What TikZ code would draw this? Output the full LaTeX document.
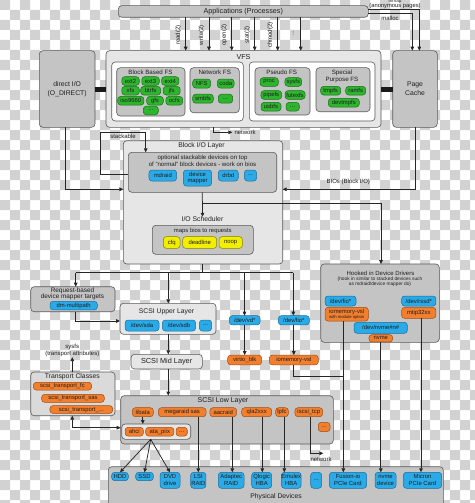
\documentclass[tikz,border=0pt]{standalone}
\usepackage{fontspec}
\setmainfont{Liberation Sans}
\usetikzlibrary{arrows.meta}
\definecolor{chk}{HTML}{D2D2D2}
\definecolor{bxd}{HTML}{C4C4C4}
\definecolor{bxl}{HTML}{E6E6E6}
\definecolor{bxm}{HTML}{DADADA}
\definecolor{bxb}{HTML}{5A5A5A}
\definecolor{gF}{HTML}{2DB52D}\definecolor{gD}{HTML}{1A6E1A}
\definecolor{bF}{HTML}{2AAAE6}\definecolor{bD}{HTML}{1B6C9E}
\definecolor{oF}{HTML}{F27F2E}\definecolor{oD}{HTML}{9E4E16}
\definecolor{yF}{HTML}{F2EE00}\definecolor{yD}{HTML}{858200}
\definecolor{tx}{HTML}{1E1E1E}
\newcommand\fT{\fontsize{6.8}{8}\selectfont}
\newcommand\fC{\fontsize{6.2}{7.3}\selectfont}
\newcommand\fP{\fontsize{5.9}{6.9}\selectfont}
\newcommand\fN{\fontsize{6}{7}\selectfont}
\newcommand\fH{\fontsize{4.8}{5.4}\selectfont}
\newcommand\fM{\fontsize{7.2}{8.2}\selectfont}
\newcommand\bx[6]{\node[#6, minimum width={(#4-#2)*1pt}, minimum height={(#5-#3)*1pt}] (#1) at ({(#2+#4)/2},{(#3+#5)/2}) {};}
\newcommand\pl[7]{\node[#6, minimum width=#4pt, minimum height=#5pt] (#1) at (#2,#3) {#7};}
\tikzset{
 box/.style={draw=bxb, line width=0.6pt, rounded corners=3.5pt, inner sep=0pt, outer sep=0pt},
 dk/.style={box, fill=bxd},
 lt/.style={box, fill=bxl},
 md/.style={box, fill=bxm},
 wt/.style={box, fill=white},
 pill/.style={line width=0.5pt, rounded corners=3pt, inner sep=0pt, outer sep=0pt, font=\fP, text=tx, align=center},
 gp/.style={pill, fill=gF, draw=gD},
 bp/.style={pill, fill=bF, draw=bD},
 op/.style={pill, fill=oF, draw=oD},
 yp/.style={pill, fill=yF, draw=yD},
 lb/.style={inner sep=0pt, outer sep=0pt, text=tx, align=center},
 ttl/.style={lb, font=\fT},
 ar/.style={draw=black!85, line width=0.75pt, -{Triangle[length=4pt,width=3.6pt]}},
 arb/.style={draw=black!85, line width=0.75pt, {Triangle[length=4pt,width=3.6pt]}-{Triangle[length=4pt,width=3.6pt]}},
 ln/.style={draw=black!85, line width=0.75pt},
}
\begin{document}
\begin{tikzpicture}[x=1pt,y=-1pt]
\useasboundingbox (0,0) rectangle (474,503);
\fill[white] (0,0) rectangle (474,503);
\fill[chk] \foreach \i in {0,20,...,460} {\foreach \j in {0,20,...,500} {(\i,\j) rectangle ++(10,10) (\i+10,\j+10) rectangle ++(10,10)}};
% ---------- top ----------
\bx{app}{118.3}{5.7}{368.3}{17.3}{dk}
\node[lb, font=\fM] (tapp) at (app) {Applications (Processes)};
\node[lb, font=\fontsize{4.6}{5}\selectfont] (tmmap) at (395,1.9) {mmap};
\node[lb, font=\fontsize{5.8}{6.5}\selectfont] (tanon) at (395,6) {(anonymous pages)};
\node[lb, font=\fN] (tmal) at (390,18.3) {malloc};
% ---------- VFS row ----------
\bx{dio}{39.3}{50.7}{95}{127.3}{dk}
\node[lb, font=\fontsize{6.8}{9}\selectfont] (tdio) at (dio) {direct I/O\\(O\_DIRECT)};
\bx{vfs}{106}{50.7}{381}{127.3}{lt}
\node[lb, font=\fM] (tvfs) at (243.5,57.3) {VFS};
\bx{vl}{111.7}{62}{243.3}{121}{wt}
\bx{vr}{249.3}{62}{375}{121}{wt}
\bx{bbfs}{116.7}{67.7}{185}{116}{dk}
\bx{nfs}{190}{67.7}{239.3}{112.7}{dk}
\bx{pfs}{255}{67.7}{310}{115}{dk}
\bx{sfs}{316}{67.7}{370}{111.7}{dk}
\bx{pc}{392.7}{50.7}{437.3}{127.3}{dk}
\node[lb, font=\fontsize{6.8}{9}\selectfont] (tpc) at (pc) {Page\\Cache};
\node[lb, font=\fC] (tbb) at (150.5,72.3) {Block Based FS};
\node[lb, font=\fC] (tnf) at (214.7,72.3) {Network FS};
\node[lb, font=\fC] (tpf) at (281.7,72.3) {Pseudo FS};
\node[lb, font=\fontsize{6.2}{7.3}\selectfont] (tsf) at (342,76.3) {Special\\Purpose FS};
\pl{ext2}{130.5}{81}{17.5}{8.6}{gp}{ext2}
\pl{ext3}{150.5}{81}{17.5}{8.6}{gp}{ext3}
\pl{ext4}{170.3}{81}{17.3}{8.6}{gp}{ext4}
\pl{xfs}{130.5}{90.7}{17.5}{8.6}{gp}{xfs}
\pl{btrfs}{150.7}{90.7}{20}{8.6}{gp}{btrfs}
\pl{jfs}{171.7}{90.7}{17}{8.6}{gp}{jfs}
\pl{iso}{130.8}{100.7}{26.3}{8.6}{gp}{iso9660}
\pl{gfs}{155}{100.7}{16.6}{8.6}{gp}{gfs}
\pl{ocfs}{174.3}{100.7}{16.7}{8.6}{gp}{ocfs}
\pl{gdot}{150.8}{110.5}{15}{8.6}{gp}{...}
\pl{nfsp}{201.7}{83.5}{18}{9}{gp}{NFS}
\pl{coda}{225.7}{83.5}{16.7}{9}{gp}{coda}
\pl{smb}{203}{98.7}{20.6}{9}{gp}{smbfs}
\pl{ndot}{225.5}{98.7}{14.4}{9}{gp}{...}
\pl{proc}{269.2}{82}{18.3}{8.6}{gp}{proc}
\pl{sysfs}{293.3}{82}{16.7}{8.6}{gp}{sysfs}
\pl{pipe}{271.3}{95}{20.7}{8.6}{gp}{pipefs}
\pl{futex}{295}{95}{20}{8.6}{gp}{futexfs}
\pl{usb}{271}{106.7}{20}{8.6}{gp}{usbfs}
\pl{pdot}{292.7}{106.7}{13.3}{8.6}{gp}{...}
\pl{tmp}{330.7}{90.7}{20}{8.6}{gp}{tmpfs}
\pl{ram}{355.7}{90.7}{20}{8.6}{gp}{ramfs}
\pl{devtmp}{343.8}{102.7}{31}{8.6}{gp}{devtmpfs}
% syscalls
\foreach \xx/\tt [count=\k] in {185.7/read(2),209/write(2),231.7/open(2),254.7/stat(2),277.7/chmod(2)}{
  \node[lb, font=\fN, rotate=90] (sc\k) at (\xx-7.5,35) {\tt};
  \draw[ar] (\xx,0 |- app.south) -- (\xx,0 |- vfs.north);
}
\node[lb, font=\fN, rotate=90] (sc6) at (293.2,33) {...};
\draw[ar] (300.7,0 |- app.south) -- (300.7,0 |- vfs.north);
\draw[ar] (app.east |- 0,9.3) -- (419.3,9.3) -- (419.3,0 |- pc.north);
\draw[ar] (app.east |- 0,13.3) -- (412.3,13.3) -- (412.3,0 |- pc.north);
\draw[line width=5.6pt, black!90] (dio.east |- 0,89.5) -- (vfs.west |- 0,89.5);
\draw[line width=5.6pt, black!90] (vfs.east |- 0,89.5) -- (pc.west |- 0,89.5);
% ---------- Block I/O ----------
\bx{blk}{123.3}{140.7}{282.7}{264}{lt}
\node[ttl] (tblk) at (201.5,146) {Block I/O Layer};
\bx{opt}{128.3}{152.3}{276.7}{192.3}{dk}
\node[lb, font=\fontsize{6.1}{6.7}\selectfont] (topt) at (202.5,160.7) {optional stackable devices on top\\of "normal" block devices - work on bios};
\pl{mdraid}{162.8}{175.5}{27.7}{11}{bp}{mdraid}
\pl{devmap}{197.5}{178}{28.3}{16}{bp}{device\\[-1.5pt]mapper}
\pl{drbd}{228.3}{175.5}{20}{11}{bp}{drbd}
\pl{bdot}{250.5}{175.5}{12.3}{11}{bp}{...}
\node[ttl] (tsch) at (202.5,219.3) {I/O Scheduler};
\bx{sch}{152.3}{225.3}{253.3}{254.3}{dk}
\node[lb, font=\fontsize{5.9}{7}\selectfont] (tmaps) at (202.8,230.7) {maps bios to requests};
\pl{cfq}{171.7}{242.5}{16.7}{11.7}{yp}{cfq}
\pl{dead}{199.7}{242.5}{34}{11.7}{yp}{deadline}
\pl{noop}{230.7}{242.5}{23.3}{11.7}{yp}{noop}
\draw[ar] (213.3,0 |- vfs.south) -- (213.3,132.3) -- (232.3,132.3);
\node[lb, font=\fN, anchor=west] (tnet1) at (234.5,132.6) {network};
\draw[ar] (opt.west |- 0,174.3) -- (100,174.3) -- (100,132.7) -- (145.7,132.7) -- (145.7,0 |- opt.north);
\node[lb, font=\fN] (tstack) at (123,136.3) {stackable};
\draw[ar] (65,0 |- dio.south) -- (65,189.3) -- (blk.west |- 0,189.3);
\draw[ar] (415,0 |- pc.south) -- (415,189.3) -- (blk.east |- 0,189.3);
\node[lb, font=\fN] (tbios) at (348.3,181.7) {BIOs (Block I/O)};
\draw[ar] (202.3,0 |- opt.south) -- (tsch.north);
\draw[ar] (202.3,203.3) -- (381,203.3) -- (381,0 |- 0,264);
% ---------- middle ----------
\bx{rq}{30.7}{286.7}{115}{311.7}{dk}
\node[lb, font=\fontsize{6.4}{6}\selectfont] (trq) at (72.5,294) {Request-based\\device mapper targets};
\pl{dmmp}{73.7}{305.6}{47.3}{8.6}{bp}{dm-multipath}
\bx{su}{120}{303.3}{216}{334.3}{lt}
\node[ttl] (tsu) at (166.5,311.7) {SCSI Upper Layer};
\pl{sda}{142}{325.5}{34}{11}{bp}{/dev/sda}
\pl{sdb}{179}{325.5}{33.3}{11}{bp}{/dev/sdb}
\pl{sdot}{205.5}{325.5}{12.3}{11}{bp}{...}
\pl{vd}{244.7}{320.3}{30.7}{9.3}{bp}{/dev/vd*}
\pl{fio}{293.8}{320.3}{31}{9.3}{bp}{/dev/fio*}
\pl{virt}{244.7}{360}{34}{9.7}{op}{virtio\_blk}
\pl{iom}{293.8}{360}{49}{9.7}{op}{iomemory-vsl}
\bx{mid}{131}{354.3}{202.3}{369}{lt}
\node[lb, font=\fontsize{7.3}{8}\selectfont] (tmid) at (mid) {SCSI Mid Layer};
\node[lb, font=\fontsize{6}{7}\selectfont] (tsys) at (72.3,350.8) {sysfs\\(transport attributes)};
\bx{tc}{30.7}{372}{115}{415.7}{md}
\node[ttl] (ttc) at (72.3,376.9) {Transport Classes};
\pl{stfc}{62.5}{386.2}{58.3}{7.8}{op}{scsi\_transport\_fc}
\pl{stsas}{73}{398.3}{62.7}{8}{op}{scsi\_transport\_sas}
\pl{stdot}{81.3}{409.5}{62.7}{7.8}{op}{scsi\_transport\_...}
% hooked
\bx{hook}{320.7}{264}{439.3}{342.3}{dk}
\node[lb, font=\fontsize{6}{7}\selectfont] (thook) at (380.5,273.3) {Hooked in Device Drivers};
\node[lb, font=\fH] (thook2) at (380,282) {(hook in similar to stacked devices such\\as mdraid/device mapper do)};
\pl{hfio}{340.5}{301}{31}{10}{bp}{/dev/fio*}
\pl{hiom}{346.7}{314.2}{43.3}{13.7}{op}{iomemory-vsl\\[-2pt]{\fontsize{4.2}{4.6}\selectfont with module option}}
\pl{rssd}{418.8}{301}{34.3}{10}{bp}{/dev/rssd*}
\pl{mtip}{418.8}{312.8}{34.3}{11}{op}{mtip32xx}
\pl{nvmen}{380.7}{327.8}{53.3}{11}{bp}{/dev/nvme\#n\#}
\pl{nvme}{380.8}{338.3}{23.7}{7.3}{op}{nvme}
% block distribution
\draw[ln] (202.3,0 |- blk.south) -- (202.3,272.7);
\draw[ln] (75.7,272.7) -- (293.3,272.7);
\draw[ar] (75.7,272.7) -- (75.7,0 |- rq.north);
\draw[ar] (168.3,272.7) -- (168.3,0 |- su.north);
\draw[ar] (244.5,272.7) -- (244.5,0 |- vd.north);
\draw[ar] (293.3,272.7) -- (293.3,0 |- fio.north);
\draw[ar] (75.7,0 |- rq.south) -- (75.7,321) -- (su.west |- 0,321);
\draw[ar] (168.3,0 |- su.south) -- (168.3,0 |- mid.north);
\draw[ar] (vd.south) -- (virt.north);
\draw[ar] (fio.south) -- (iom.north);
\draw[ar] (tsys.south |- tc.north) -- (tsys.south);
% ---------- SCSI low ----------
\bx{sl}{120.7}{395.7}{333.3}{444}{dk}
\node[lb, font=\fontsize{7}{8}\selectfont] (tsl) at (223,401) {SCSI Low Layer};
\pl{libata}{142.8}{412.2}{21}{9}{op}{libata}
\pl{mega}{182.2}{412.2}{47.7}{9}{op}{megaraid sas}
\pl{aac}{223.3}{412.2}{26.7}{9}{op}{aacraid}
\pl{qla}{256.7}{412.2}{30}{9}{op}{qla2xxx}
\pl{lpfc}{282}{412.2}{12.7}{9}{op}{lpfc}
\pl{iscsi}{308.8}{412.2}{27.7}{9}{op}{iscsi\_tcp}
\pl{ldot}{324.2}{427}{11.7}{9.3}{op}{...}
\bx{inner}{121.7}{424}{190.7}{439.3}{lt}
\pl{ahci}{134.2}{431.7}{18.3}{8.7}{op}{ahci}
\pl{ata}{159.8}{431.7}{28.3}{8.7}{op}{ata\_piix}
\pl{adot}{181.7}{431.7}{11.3}{8.7}{op}{...}
\draw[ar] (168.3,0 |- mid.south) -- (168.3,0 |- sl.north);
\draw[arb] (72.3,0 |- tc.south) -- (72.3,427.7) -- (sl.west |- 0,427.7);
\draw[ar] (libata.south) -- (142.8,0 |- inner.north);
% ---------- physical ----------
\bx{phys}{108.3}{466.7}{443.3}{512}{dk}
\node[ttl] (tphys) at (276,496.7) {Physical Devices};
\pl{hdd}{120}{476.5}{16.7}{8.3}{bp}{HDD}
\pl{ssd}{144.5}{476.5}{17.7}{8.3}{bp}{SSD}
\pl{dvd}{170}{480.3}{20}{16}{bp}{DVD\\drive}
\pl{lsi}{198.3}{480.3}{15.3}{16}{bp}{LSI\\RAID}
\pl{adp}{231.2}{480.3}{25.7}{16}{bp}{Adaptec\\RAID}
\pl{qlo}{261.7}{480.3}{20}{16}{bp}{Qlogic\\HBA}
\pl{emu}{291.3}{480.3}{19.5}{16}{bp}{Emulex\\HBA}
\pl{ddot}{316.2}{480.3}{11}{16}{bp}{...}
\pl{fus}{348}{480.3}{37.3}{16}{bp}{Fusion-io\\PCIe Card}
\pl{nvd}{385.5}{480.3}{21}{16}{bp}{nvme\\device}
\pl{mic}{422.5}{480.3}{38.3}{16}{bp}{Micron\\PCIe Card}
\draw[ar] (150.7,0 |- inner.south) -- (hdd.north);
\draw[ar] (150.7,0 |- inner.south) -- (ssd.north);
\draw[ar] (150.7,0 |- inner.south) -- (dvd.north);
\draw[ar] (198.3,0 |- mega.south) -- (198.3,0 |- lsi.north);
\draw[ar] (232.3,0 |- aac.south) -- (232.3,0 |- adp.north);
\draw[ar] (262.3,0 |- qla.south) -- (262.3,0 |- qlo.north);
\draw[ar] (284.3,0 |- lpfc.south) -- (284.3,0 |- emu.north);
\draw[ar] (310.7,0 |- iscsi.south) -- (310.7,453.3) -- (323.3,453.3);
\node[lb, font=\fN] (tnet2) at (321,459.3) {network};
\draw[ar] (343.3,0 |- hiom.south) -- (343.3,0 |- fus.north);
\draw[ln] (iom.south) -- (iom.south |- 0,376.7) -- (343.3,376.7);
\draw[ar] (380.8,0 |- nvme.south) -- (380.8,0 |- nvd.north);
\draw[ar] (421,0 |- mtip.south) -- (421,0 |- mic.north);
\end{tikzpicture}
\end{document}
